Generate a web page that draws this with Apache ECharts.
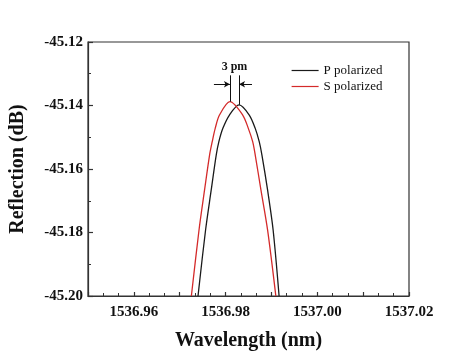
<!DOCTYPE html>
<html>
<head>
<meta charset="utf-8">
<script src="https://cdn.jsdelivr.net/npm/echarts@6/dist/echarts.min.js"></script>
<style>html,body{margin:0;padding:0;background:#fff}#chart{width:474px;height:356px}</style>
</head>
<body>
<div id="chart"></div>
<script>
// Data
const pWavelength = [1536.97399, 1536.97564, 1536.97687, 1536.97796, 1536.97854, 1536.97941, 1536.98084, 1536.98294, 1536.98517, 1536.98647, 1536.98734, 1536.98793, 1536.98916, 1536.99037, 1536.99167];
const pReflection = [-45.2000, -45.1792, -45.1666, -45.1556, -45.1514, -45.1472, -45.1430, -45.1398, -45.1430, -45.1472, -45.1514, -45.1556, -45.1666, -45.1792, -45.2000];
const sWavelength = [1536.97254, 1536.97421, 1536.97542, 1536.97651, 1536.97709, 1536.97774, 1536.97867, 1536.98095, 1536.98374, 1536.98496, 1536.98591, 1536.98647, 1536.98771, 1536.98916, 1536.99096];
const sReflection = [-45.2000, -45.1792, -45.1666, -45.1556, -45.1514, -45.1472, -45.1430, -45.1388, -45.1430, -45.1472, -45.1514, -45.1556, -45.1666, -45.1792, -45.2000];
const xTickLabels = ['1536.96', '1536.98', '1537.00', '1537.02'];
const seriesNames = ['P polarized', 'S polarized'];
const annotationText = '3 pm';

const zip = (xs, ys) => xs.map((x, i) => [x, ys[i]]);
const peakOf = (xs, ys) => { let k = 0; ys.forEach((v, i) => { if (v > ys[k]) k = i; }); return [xs[k], ys[k]]; };
const sPeak = peakOf(sWavelength, sReflection);
const pPeak = peakOf(pWavelength, pReflection);

// annotation layout (data space)
const annTop = -45.1305, arrowY = -45.1333, textY = -45.1278;
const arrowLeftFrom = 1536.97746, arrowRightFrom = 1536.98576;

const serif = '"Liberation Serif", "DejaVu Serif", serif';
const chart = echarts.init(document.getElementById('chart'));
chart.setOption({
  animation: false,
  backgroundColor: '#fff',
  grid: { left: 86, right: 65, top: 42, bottom: 60, show: true, borderColor: '#333', borderWidth: 1.2, backgroundColor: 'transparent' },
  legend: {
    data: seriesNames, orient: 'vertical', left: 286, top: 59,
    itemWidth: 27, itemHeight: 12, itemGap: 3,
    itemStyle: { opacity: 0 },
    lineStyle: { width: 1.2 },
    textStyle: { fontFamily: serif, fontSize: 13, color: '#111' }
  },
  xAxis: {
    type: 'value', min: 1536.95, max: 1537.02, interval: 0.01,
    name: 'Wavelength (nm)', nameLocation: 'middle', nameGap: 35,
    nameTextStyle: { fontFamily: serif, fontSize: 20, fontWeight: 'bold', color: '#111' },
    axisLine: { lineStyle: { color: '#333', width: 1.2 } },
    axisTick: { inside: true, length: 4, lineStyle: { color: '#333', width: 1.2 } },
    minorTick: { show: true, splitNumber: 3, length: 3, lineStyle: { color: '#333', width: 1 } },
    axisLabel: {
      margin: 9, fontFamily: serif, fontSize: 15, fontWeight: 'bold', color: '#111',
      formatter: v => { const s = v.toFixed(2); return xTickLabels.includes(s) ? s : ''; }
    },
    splitLine: { show: false }
  },
  yAxis: {
    type: 'value', min: -45.20, max: -45.12, interval: 0.02,
    name: 'Reflection (dB)', nameLocation: 'middle', nameGap: 60,
    nameTextStyle: { fontFamily: serif, fontSize: 20, fontWeight: 'bold', color: '#111' },
    axisLine: { show: true, lineStyle: { color: '#333', width: 1.2 } },
    axisTick: { inside: true, length: 5, lineStyle: { color: '#333', width: 1.2 } },
    minorTick: { show: true, splitNumber: 2, length: 3, lineStyle: { color: '#333', width: 1 } },
    axisLabel: { margin: 5, fontFamily: serif, fontSize: 15, fontWeight: 'bold', color: '#111', formatter: v => v.toFixed(2) },
    splitLine: { show: false }
  },
  series: [{
    name: seriesNames[0], type: 'line', data: zip(pWavelength, pReflection),
    smooth: 0.3, symbol: 'none', lineStyle: { color: '#1a1a1a', width: 1.3 }, itemStyle: { color: '#1a1a1a' },
    markLine: {
      silent: true, symbol: ['none', 'none'], animation: false,
      label: { show: false },
      lineStyle: { color: '#111', width: 1, type: 'solid' },
      data: [
        [{ coord: [sPeak[0], sPeak[1]] }, { coord: [sPeak[0], annTop] }],
        [{ coord: [pPeak[0], pPeak[1]] }, { coord: [pPeak[0], annTop] }],
        [{ coord: [arrowLeftFrom, arrowY], symbol: 'none' }, { coord: [sPeak[0], arrowY], symbol: 'arrow', symbolSize: [5, 6] }],
        [{ coord: [arrowRightFrom, arrowY], symbol: 'none' }, { coord: [pPeak[0], arrowY], symbol: 'arrow', symbolSize: [5, 6] }]
      ]
    },
    markPoint: {
      silent: true, animation: false,
      data: [{ coord: [(sPeak[0] + pPeak[0]) / 2, textY], symbol: 'circle', symbolSize: 0,
        label: { show: true, position: 'inside', formatter: annotationText, fontFamily: serif, fontSize: 12, fontWeight: 'bold', color: '#111' } }]
    }
  }, {
    name: seriesNames[1], type: 'line', data: zip(sWavelength, sReflection),
    smooth: 0.3, symbol: 'none', lineStyle: { color: '#d42a2a', width: 1.3 }, itemStyle: { color: '#d42a2a' }
  }]
});
</script>
</body>
</html>
